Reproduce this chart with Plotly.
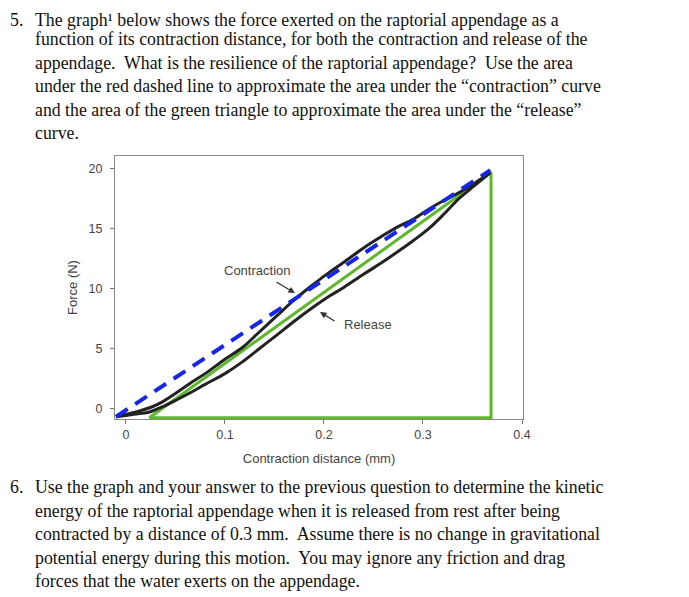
import plotly.graph_objects as go

# Contraction / release curves (distance in mm, force in N)
contraction_x = [-0.01, 0.0, 0.012, 0.024, 0.036, 0.051, 0.065, 0.08, 0.1, 0.118,
                 0.135, 0.152, 0.172, 0.19, 0.206, 0.22, 0.24, 0.257, 0.273, 0.29,
                 0.307, 0.322, 0.336, 0.352, 0.368]
contraction_y = [-0.7, -0.5, -0.25, 0.05, 0.5, 1.3, 2.1, 2.9, 4.1, 5.1,
                 6.4, 7.7, 9.2, 10.4, 11.4, 12.2, 13.4, 14.3, 15.1, 15.8,
                 16.7, 17.4, 18.0, 18.8, 19.7]

release_x = [-0.01, 0.0, 0.012, 0.024, 0.036, 0.051, 0.065, 0.08, 0.1, 0.118,
             0.135, 0.152, 0.172, 0.19, 0.206, 0.22, 0.24, 0.257, 0.273, 0.29,
             0.307, 0.322, 0.336, 0.352, 0.368]
release_y = [-0.7, -0.6, -0.45, -0.3, 0.1, 0.7, 1.3, 2.0, 2.9, 3.9,
             5.0, 6.1, 7.4, 8.5, 9.4, 10.1, 11.2, 12.1, 13.0, 14.0,
             15.1, 16.3, 17.5, 18.6, 19.7]

# approximations: dashed straight line and the green triangle
dashed_x = [-0.01, 0.368]
dashed_y = [-0.7, 19.9]
triangle_x = [0.0236, 0.3687, 0.3687, 0.0236]
triangle_y = [-0.78, -0.78, 19.7, -0.78]

x_ticks = [0, 0.1, 0.2, 0.3, 0.4]
x_tick_labels = ['0', '0.1', '0.2', '0.3', '0.4']
y_ticks = [0, 5, 10, 15, 20]

question_5 = [
    'The graph\u00b9 below shows the force exerted on the raptorial appendage as a',
    'function of its contraction distance, for both the contraction and release of the',
    'appendage.  What is the resilience of the raptorial appendage?  Use the area',
    'under the red dashed line to approximate the area under the \u201ccontraction\u201d curve',
    'and the area of the green triangle to approximate the area under the \u201crelease\u201d',
    'curve.',
]
question_6 = [
    'Use the graph and your answer to the previous question to determine the kinetic',
    'energy of the raptorial appendage when it is released from rest after being',
    'contracted by a distance of 0.3 mm.  Assume there is no change in gravitational',
    'potential energy during this motion.  You may ignore any friction and drag',
    'forces that the water exerts on the appendage.',
]

# page sits inside the default 8px body margin, so the figure is shrunk by that
PAGE = 8
W, H = 689 - PAGE, 597 - PAGE
L, R, T, B = 115, 523, 156, 419   # plot box in window pixels


def paper_x(px):
    return (px - L) / (R - L)


def paper_y(py):
    return (B - py) / (B - T)


fig = go.Figure()

fig.add_trace(go.Scatter(x=triangle_x, y=triangle_y, mode='lines',
                         line=dict(color='#5db82c', width=3)))
fig.add_trace(go.Scatter(x=release_x, y=release_y, mode='lines', line_shape='spline',
                         line=dict(color='#222222', width=3)))
fig.add_trace(go.Scatter(x=contraction_x, y=contraction_y, mode='lines', line_shape='spline',
                         line=dict(color='#222222', width=3)))
fig.add_trace(go.Scatter(x=dashed_x, y=dashed_y, mode='lines',
                         line=dict(color='#1626e8', width=4, dash='14px,9px')))

# curve labels with arrows
fig.add_annotation(x=0.1707, y=9.63, ax=-20, ay=-12, text='', showarrow=True,
                   arrowhead=2, arrowsize=1, arrowwidth=1.3, arrowcolor='#333333')
fig.add_annotation(x=0.196, y=8.05, ax=16, ay=10, text='', showarrow=True,
                   arrowhead=2, arrowsize=1, arrowwidth=1.3, arrowcolor='#333333')
fig.add_annotation(x=paper_x(257), y=paper_y(270), xref='paper', yref='paper',
                   text='Contraction', showarrow=False,
                   font=dict(family='Liberation Sans', size=13, color='#444444'))
fig.add_annotation(x=paper_x(368), y=paper_y(324), xref='paper', yref='paper',
                   text='Release', showarrow=False,
                   font=dict(family='Liberation Sans', size=13, color='#444444'))

# question text above and below the chart
text_font = dict(family='Liberation Serif', size=17.8, color='#111111')
top_rows = [39, 63, 86, 110, 133]
bottom_rows = [487, 511, 534, 558, 581]

# first line hangs from the top edge so nothing gets clipped
fig.add_annotation(x=paper_x(8), y=paper_y(PAGE), xref='paper', yref='paper',
                   text='5.', showarrow=False, xanchor='left', yanchor='top', font=text_font)
fig.add_annotation(x=paper_x(33), y=paper_y(PAGE), xref='paper', yref='paper',
                   text=question_5[0], showarrow=False, xanchor='left', yanchor='top',
                   font=text_font)
for row, line in zip(top_rows, question_5[1:]):
    fig.add_annotation(x=paper_x(33), y=paper_y(row), xref='paper', yref='paper',
                       text=line, showarrow=False, xanchor='left', yanchor='middle',
                       font=text_font)
fig.add_annotation(x=paper_x(8), y=paper_y(bottom_rows[0]), xref='paper', yref='paper',
                   text='6.', showarrow=False, xanchor='left', yanchor='middle', font=text_font)
for row, line in zip(bottom_rows, question_6):
    fig.add_annotation(x=paper_x(33), y=paper_y(row), xref='paper', yref='paper',
                       text=line, showarrow=False, xanchor='left', yanchor='middle',
                       font=text_font)

axis_common = dict(showline=True, linecolor='#8a8a8a', linewidth=1, mirror=True,
                   showgrid=False, zeroline=False, ticks='outside', ticklen=4,
                   tickcolor='#777777',
                   tickfont=dict(family='Liberation Sans', size=12.5, color='#444444'))

fig.update_layout(
    width=W, height=H,
    margin=dict(l=L - PAGE, r=W - (R - PAGE), t=T - PAGE, b=H - (B - PAGE)),
    paper_bgcolor='white', plot_bgcolor='white',
    showlegend=False,
    xaxis=dict(range=[-0.011, 0.401], tickvals=x_ticks, ticktext=x_tick_labels,
               title=dict(text='Contraction distance (mm)', standoff=12,
                          font=dict(family='Liberation Sans', size=13, color='#444444')),
               **axis_common),
    yaxis=dict(range=[-0.89, 21.08], tickvals=y_ticks, ticklabelstandoff=5,
               title=dict(text='Force (N)', standoff=8,
                          font=dict(family='Liberation Sans', size=13, color='#444444')),
               **axis_common),
)

fig.write_html('out.html')
